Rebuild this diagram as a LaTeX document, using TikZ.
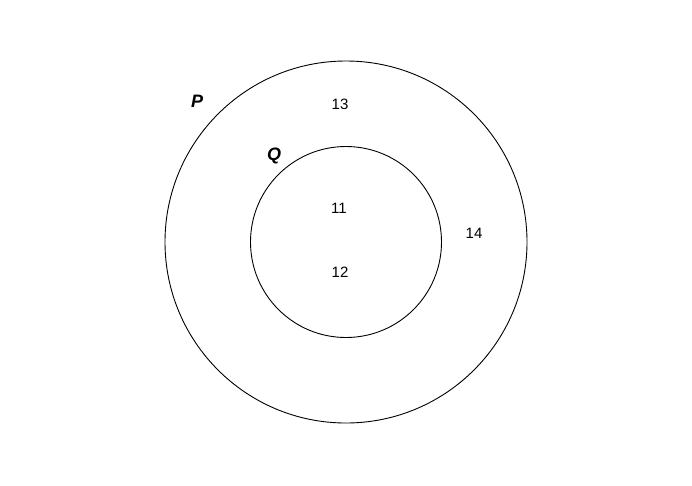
\documentclass[tikz,border=0pt]{standalone}
\usepackage{fontspec}
\setmainfont{Liberation Sans}
\usetikzlibrary{calc, positioning}

\begin{document}
\begin{tikzpicture}[x=1pt, y=-1pt, line width = 0.9pt,
  num/.style = {inner sep = 0pt, font = \fontsize{15}{18}\selectfont},
  setname/.style = {inner sep = 0pt, font = \fontsize{18}{21}\selectfont\bfseries\itshape}]
\useasboundingbox (0,0) rectangle (692,485);
\node[draw, circle, minimum size = 362pt, inner sep = 0pt] (P) at (346,242) {};
\node[draw, circle, minimum size = 191pt, inner sep = 0pt] (Q) at (346,242) {};
\node[setname] (Plab) at (197,101) {P};
\node[setname] (Qlab) at (274,156) {Q};
\foreach \n/\x/\y in {13/340/104, 11/339/208, 12/340/272, 14/474/233}{
\node[num] (n\n) at (\x,\y) {\n};
}
\end{tikzpicture}
\end{document}
